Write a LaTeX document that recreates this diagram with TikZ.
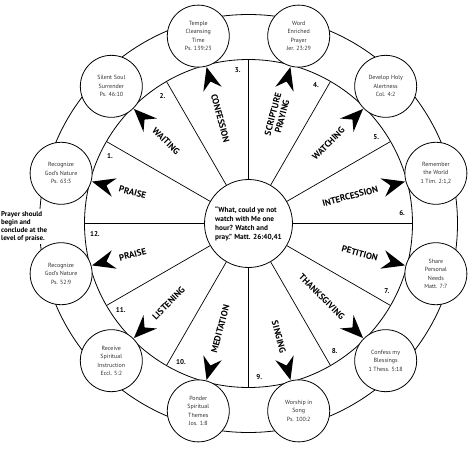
\documentclass[tikz,border=0pt]{standalone}
\usepackage{fontspec}
\setmainfont{PT Sans}
\begin{document}
\begin{tikzpicture}[x=1pt,y=1pt]
\tikzset{
 rim/.style={line width=0.8pt},
 spoke/.style={line width=0.7pt},
 satellite/.style={circle, draw, line width=0.8pt, fill=white, minimum size=62pt, inner sep=0pt, align=center, font=\fontsize{6}{8.5}\selectfont, text=black!80},
 hubstyle/.style={circle, draw, line width=0.8pt, fill=white, minimum size=88pt, inner sep=0pt, align=left, font=\bfseries\fontsize{7.3}{9}\selectfont},
 sector/.style={font=\bfseries\fontsize{9}{9.5}\selectfont, inner sep=0pt, align=center},
 num/.style={font=\bfseries\fontsize{7}{8}\selectfont, inner sep=0pt},
 note/.style={font=\bfseries\fontsize{7}{8}\selectfont, align=left, fill=white, inner xsep=1pt, inner ysep=2pt, anchor=north west},
 chevron/.style={fill=black},
}
\useasboundingbox (-248.5,-224.5) rectangle (225.5,223.5);
% outer ring
\draw[rim] (0,0) circle (209);
% side note
\node[note] (note) at (-248.5,14.5) {Prayer should\\begin and\\conclude at the\\level of praise.};
% inner rim
\draw[rim] (0,0) circle (164);
% hub
\node[hubstyle] (hub) at (0,0) {“What, could ye not\\watch with Me one\\hour? Watch and\\pray.” Matt. 26:40,41};
% spokes
\foreach \a in {0,30,...,330} \draw[spoke] (hub.\a) -- (\a:164);
% satellites
\foreach \a/\t [count=\i] in {
 105/{Temple\\Cleansing\\Time\\Ps. 139:23},
 75/{Word\\Enriched\\Prayer\\Jer. 23:29},
 45/{Develop Holy\\Alertness\\Col. 4:2},
 15/{Remember\\the World\\1 Tim. 2:1,2},
 -15/{Share\\Personal\\Needs\\Matt. 7:7},
 -45/{Confess my\\Blessings\\1 Thess. 5:18},
 -75/{Worship in\\Song\\Ps. 100:2},
 -105/{Ponder\\Spiritual\\Themes\\Jos. 1:8},
 -135/{Receive\\Spiritual\\Instruction\\Eccl. 5:2},
 -165/{Recognize\\God's Nature\\Ps. 52:9},
 165/{Recognize\\God's Nature\\Ps. 63:3},
 135/{Silent Soul\\Surrender\\Ps. 46:10}}
 \node[satellite] (sat\i) at (\a:194) {\t};
% arrows
\foreach \a in {15,45,...,345} \fill[chevron, rotate=\a] (162,0) -- (139,9.5) -- (147,0) -- (139,-9.5) -- cycle;
% sector labels, right half
\foreach \a/\t [count=\i] in {75/{SCRIPTURE\\PRAYING},45/WATCHING,15/INTERCESSION,-15/PETITION,-45/THANKSGIVING,-75/SINGING}
 \node[sector, rotate=\a, anchor=east] (labr\i) at (\a:134) {\t};
% sector labels, left half
\foreach \a/\t [count=\i] in {165/PRAISE,135/WAITING,105/CONFESSION,-105/MEDITATION,-135/LISTENING,-165/PRAISE}
 {\pgfmathsetmacro\rot{\a+180}
 \node[sector, rotate=\rot, anchor=west] (labl\i) at (\a:134) {\t};}
% numbers
\foreach \k in {1,...,12}
 {\pgfmathsetmacro\ang{184-30*\k}
 \node[num] (n\k) at (\ang:154) {\k.};}
\end{tikzpicture}
\end{document}
